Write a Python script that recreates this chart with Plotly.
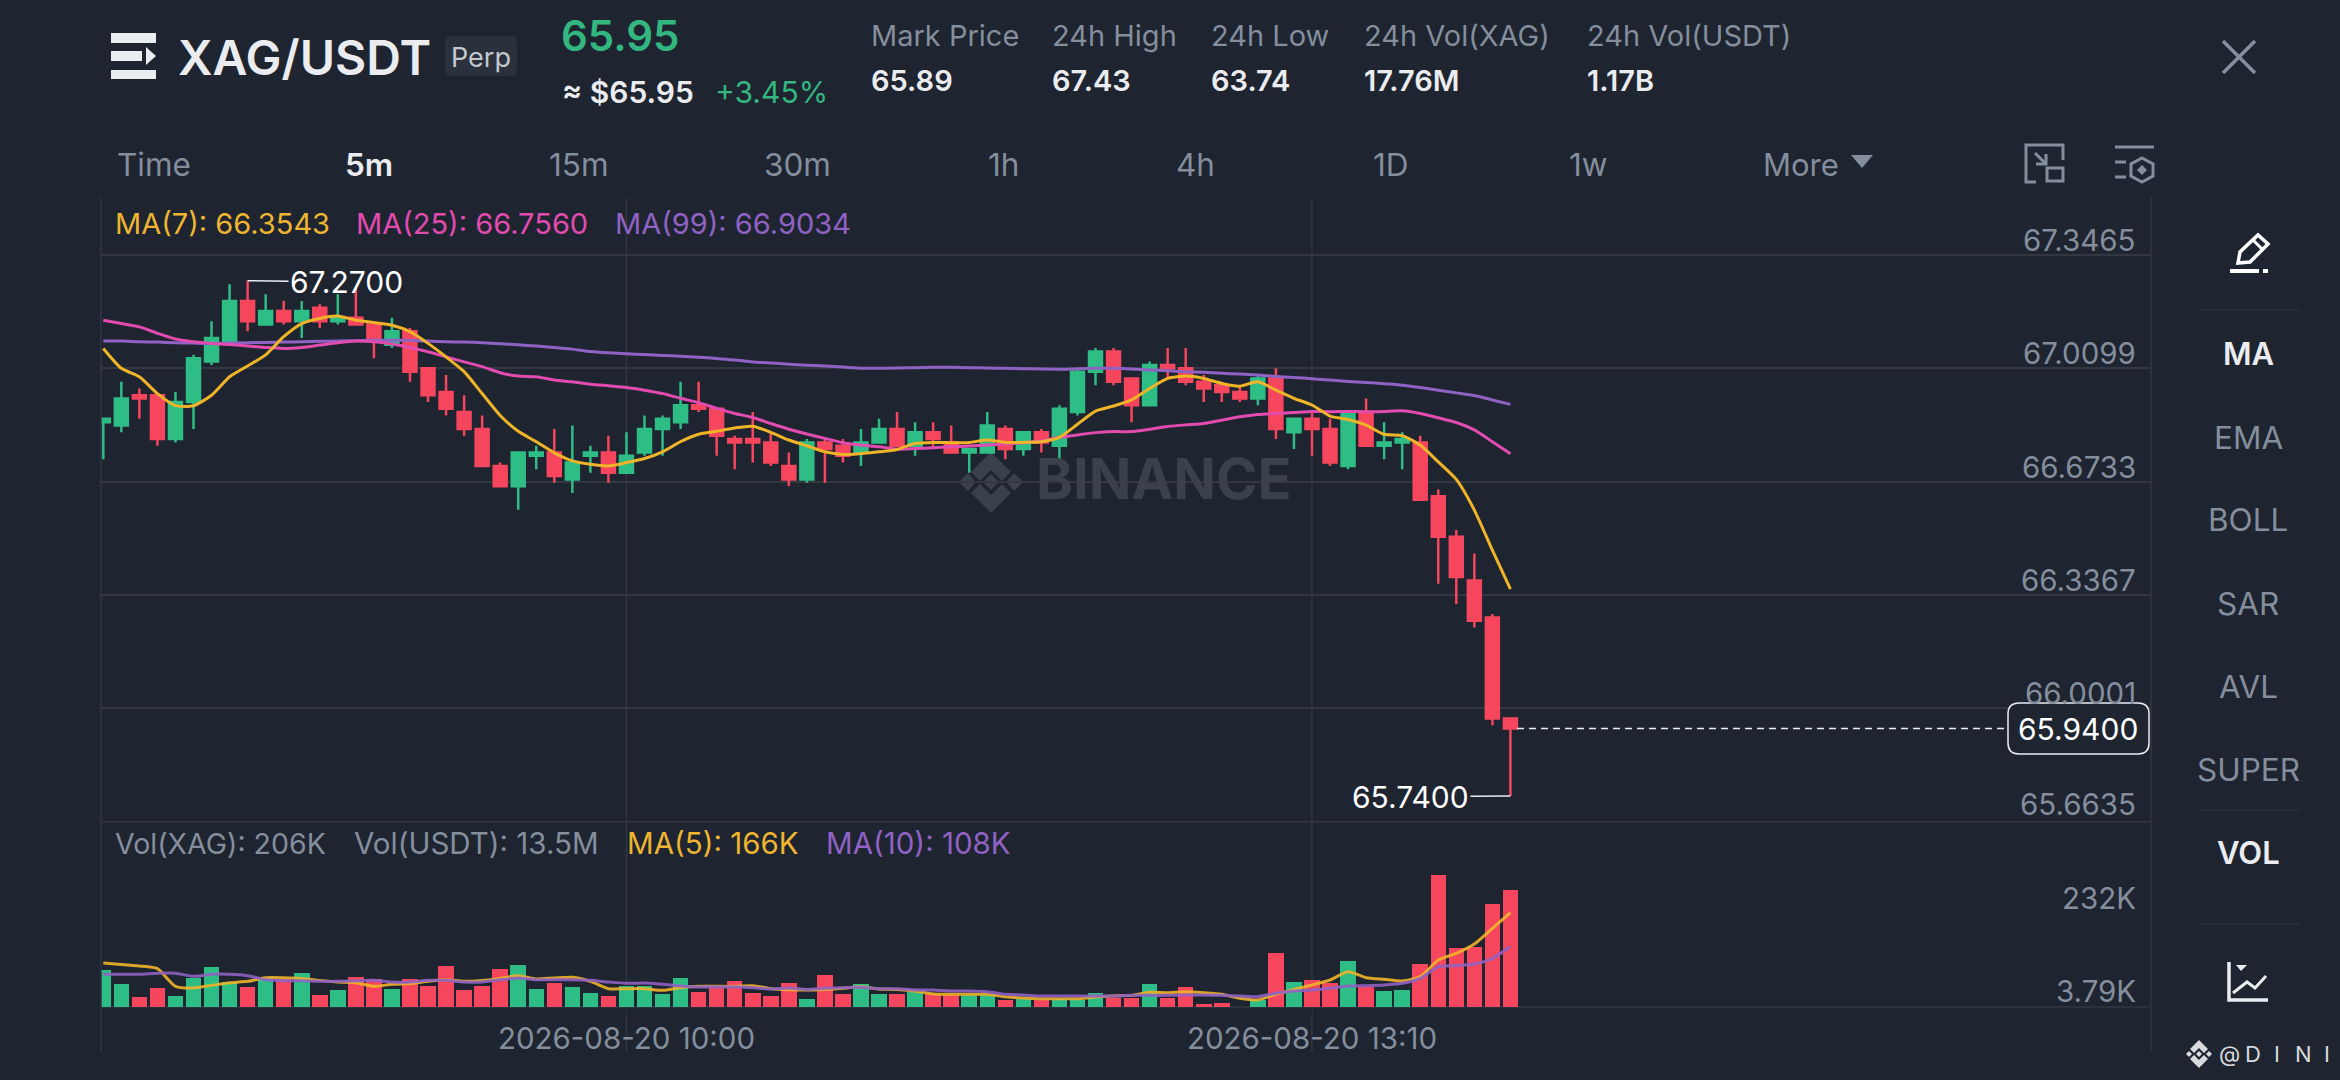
import pandas as pd
import plotly.graph_objects as go

# candles (one per 5 minutes)
first_time = "2026-08-20 07:35"
opens = [66.85, 66.84, 66.93, 66.93, 66.80, 66.91, 67.03, 67.09, 67.21, 67.14,
         67.18, 67.15, 67.19, 67.15, 67.16, 67.14, 67.08, 67.12, 67.01, 66.94,
         66.88, 66.83, 66.72, 66.66, 66.75, 66.76, 66.68, 66.75, 66.76, 66.70,
         66.76, 66.83, 66.85, 66.90, 66.89, 66.80, 66.80, 66.79, 66.72, 66.68,
         66.79, 66.78, 66.76, 66.79, 66.83, 66.78, 66.82, 66.79, 66.76, 66.76,
         66.83, 66.77, 66.82, 66.78, 66.88, 67.00, 67.06, 66.98, 66.90, 67.02,
         67.01, 66.97, 66.96, 66.94, 66.92, 66.98, 66.82, 66.86, 66.83, 66.72,
         66.88, 66.78, 66.79, 66.79, 66.63, 66.51, 66.38, 66.27, 65.97]
highs = [66.86, 66.97, 66.95, 66.93, 66.94, 67.05, 67.15, 67.26, 67.27, 67.23,
         67.21, 67.21, 67.20, 67.23, 67.25, 67.14, 67.16, 67.13, 67.01, 66.99,
         66.93, 66.87, 66.73, 66.76, 66.78, 66.83, 66.84, 66.78, 66.81, 66.82,
         66.87, 66.87, 66.97, 66.97, 66.89, 66.81, 66.88, 66.82, 66.76, 66.80,
         66.80, 66.80, 66.83, 66.86, 66.88, 66.85, 66.85, 66.84, 66.77, 66.88,
         66.84, 66.82, 66.83, 66.90, 67.01, 67.07, 67.07, 66.98, 67.03, 67.07,
         67.07, 66.99, 66.97, 66.96, 66.99, 67.01, 66.86, 66.88, 66.86, 66.88,
         66.92, 66.85, 66.82, 66.81, 66.65, 66.53, 66.46, 66.28, 65.97]
lows = [66.74, 66.82, 66.86, 66.78, 66.79, 66.83, 67.02, 67.09, 67.12, 67.14,
        67.14, 67.10, 67.13, 67.14, 67.14, 67.04, 67.07, 66.97, 66.91, 66.87,
        66.81, 66.72, 66.66, 66.59, 66.71, 66.67, 66.64, 66.70, 66.67, 66.70,
        66.75, 66.75, 66.83, 66.88, 66.75, 66.71, 66.73, 66.72, 66.66, 66.67,
        66.67, 66.73, 66.72, 66.79, 66.78, 66.75, 66.77, 66.76, 66.70, 66.76,
        66.74, 66.75, 66.76, 66.73, 66.87, 66.96, 66.96, 66.85, 66.90, 66.98,
        66.96, 66.91, 66.91, 66.91, 66.90, 66.80, 66.77, 66.75, 66.72, 66.71,
        66.78, 66.74, 66.71, 66.62, 66.37, 66.31, 66.24, 65.95, 65.74]
closes = [66.86, 66.92, 66.92, 66.80, 66.91, 67.04, 67.10, 67.21, 67.15, 67.18,
          67.15, 67.18, 67.15, 67.16, 67.14, 67.10, 67.12, 67.00, 66.93, 66.89,
          66.83, 66.72, 66.66, 66.76, 66.76, 66.69, 66.73, 66.76, 66.70, 66.75,
          66.83, 66.86, 66.90, 66.89, 66.81, 66.79, 66.79, 66.73, 66.68, 66.79,
          66.77, 66.75, 66.79, 66.83, 66.78, 66.82, 66.80, 66.76, 66.77, 66.84,
          66.77, 66.82, 66.79, 66.89, 67.00, 67.06, 66.97, 66.90, 67.02, 67.01,
          66.97, 66.95, 66.94, 66.92, 66.98, 66.83, 66.86, 66.83, 66.73, 66.88,
          66.78, 66.79, 66.80, 66.62, 66.51, 66.39, 66.26, 65.97, 65.94]

ma7 = [67.069, 67.010, 66.985, 66.935, 66.899, 66.899, 66.930, 66.985, 67.017, 67.050,
       67.104, 67.143, 67.158, 67.165, 67.153, 67.146, 67.138, 67.119, 67.084, 67.044,
       67.000, 66.935, 66.870, 66.823, 66.792, 66.759, 66.735, 66.725, 66.720, 66.730,
       66.742, 66.762, 66.792, 66.814, 66.823, 66.833, 66.838, 66.820, 66.797, 66.780,
       66.762, 66.754, 66.757, 66.762, 66.769, 66.787, 66.790, 66.789, 66.790, 66.797,
       66.790, 66.790, 66.792, 66.805, 66.844, 66.883, 66.898, 66.916, 66.950, 66.980,
       66.987, 66.980, 66.965, 66.957, 66.970, 66.945, 66.921, 66.901, 66.868, 66.858,
       66.841, 66.814, 66.810, 66.782, 66.732, 66.680, 66.589, 66.470, 66.354]
ma25 = [67.153, 67.143, 67.133, 67.114, 67.097, 67.089, 67.084, 67.081, 67.076, 67.072,
        67.069, 67.072, 67.079, 67.086, 67.091, 67.089, 67.082, 67.072, 67.059, 67.044,
        67.029, 67.015, 66.997, 66.987, 66.985, 66.975, 66.970, 66.963, 66.958, 66.953,
        66.945, 66.935, 66.921, 66.908, 66.891, 66.876, 66.864, 66.846, 66.829, 66.815,
        66.802, 66.789, 66.782, 66.777, 66.770, 66.772, 66.774, 66.777, 66.779, 66.782,
        66.785, 66.789, 66.794, 66.805, 66.812, 66.819, 66.822, 66.822, 66.829, 66.837,
        66.842, 66.846, 66.856, 66.866, 66.873, 66.876, 66.879, 66.882, 66.881, 66.882,
        66.881, 66.882, 66.884, 66.876, 66.863, 66.849, 66.827, 66.792, 66.756]
ma99 = [67.091, 67.091, 67.089, 67.088, 67.086, 67.085, 67.084, 67.085, 67.086, 67.087,
        67.088, 67.089, 67.090, 67.091, 67.092, 67.093, 67.093, 67.093, 67.091, 67.089,
        67.088, 67.086, 67.083, 67.080, 67.076, 67.072, 67.067, 67.060, 67.056, 67.053,
        67.051, 67.048, 67.046, 67.043, 67.039, 67.035, 67.029, 67.026, 67.022, 67.019,
        67.017, 67.014, 67.010, 67.010, 67.011, 67.012, 67.013, 67.013, 67.012, 67.011,
        67.010, 67.009, 67.008, 67.007, 67.009, 67.010, 67.010, 67.008, 67.005, 67.003,
        67.000, 66.998, 66.995, 66.993, 66.990, 66.986, 66.983, 66.979, 66.975, 66.971,
        66.968, 66.964, 66.960, 66.953, 66.945, 66.937, 66.929, 66.916, 66.903]

volumes = [68.6, 44.5, 22.1, 37.6, 22.7, 53.6, 73.7, 46.8, 39.3, 56.5,
           52.5, 63.4, 25.6, 33.0, 56.5, 52.5, 35.9, 52.5, 41.0, 74.9,
           33.6, 40.5, 70.3, 76.6, 35.9, 46.2, 39.3, 29.0, 22.7, 41.0,
           41.0, 26.7, 53.6, 30.2, 39.3, 49.6, 28.4, 23.3, 45.6, 17.5,
           58.8, 26.1, 44.5, 26.1, 27.3, 30.2, 27.3, 25.6, 24.4, 25.6,
           15.8, 17.5, 15.8, 17.5, 17.0, 27.9, 19.8, 20.4, 44.5, 20.4,
           38.7, 10.1, 10.7, 3.79, 17.0, 96.6, 46.8, 51.4, 46.2, 84.0,
           38.7, 31.9, 34.2, 77.7, 232.0, 105.8, 108.1, 181.4, 206.0]
vol_ma5 = [79.4, 77.1, 74.3, 69.7, 39.3, 36.5, 41.0, 45.6, 47.9, 54.2,
           54.2, 53.0, 49.6, 46.8, 45.6, 39.3, 42.8, 44.0, 47.9, 50.8,
           47.9, 49.6, 53.0, 57.7, 52.0, 53.6, 54.8, 47.9, 35.3, 35.3,
           35.3, 32.4, 37.0, 39.3, 39.3, 39.3, 40.5, 35.3, 33.6, 33.0,
           34.0, 35.9, 38.7, 34.7, 34.0, 31.3, 26.1, 25.6, 25.6, 25.6,
           21.6, 19.3, 18.1, 18.1, 18.1, 21.0, 22.7, 23.8, 29.0, 28.4,
           30.2, 28.4, 25.6, 18.7, 15.8, 25.6, 34.0, 41.6, 50.2, 64.5,
           54.2, 51.4, 48.5, 56.0, 84.6, 96.0, 112.0, 139.0, 166.0]
vol_ma10 = [60.0, 60.0, 60.0, 62.0, 62.0, 56.5, 60.0, 60.0, 57.7, 50.8,
            49.0, 49.0, 47.9, 47.9, 49.0, 49.6, 46.8, 46.8, 49.6, 49.6,
            46.8, 46.8, 50.8, 53.6, 50.8, 50.8, 50.8, 49.6, 46.8, 44.5,
            45.0, 42.8, 39.9, 38.2, 38.2, 38.2, 37.0, 34.7, 36.5, 34.0,
            35.9, 37.0, 37.6, 35.3, 35.3, 33.0, 33.0, 31.3, 31.3, 30.2,
            25.6, 24.4, 22.7, 22.7, 22.7, 22.7, 22.7, 23.8, 23.8, 23.8,
            24.4, 24.4, 23.8, 22.7, 21.6, 27.3, 31.3, 33.0, 35.9, 39.9,
            40.5, 41.6, 44.5, 53.0, 73.0, 74.8, 77.7, 87.5, 108.0]

price_ticks = [67.3465, 67.0099, 66.6733, 66.3367, 66.0001, 65.6635]
price_label_shift = [15, 15, 15, 15, 15, 18]
time_ticks = ["2026-08-20 10:00", "2026-08-20 13:10"]

BG = "#1E2430"
GRID = "#323742"
GREEN = "#2EBD85"
RED = "#F6465D"
YELLOW = "#F0B429"
PINK = "#E24BB0"
PURPLE = "#8F62C4"
GRAY = "#848E9C"
WHITE = "#EAECEF"
FONT = "Inter"

W, H = 2340, 1080
times = pd.date_range(first_time, periods=len(closes), freq="5min")


# the axis scale: 18.04 px per candle, first candle centred at x=103.3
def px_time(px):
    return times[0] + pd.Timedelta(minutes=5 * (px - 103.3) / 18.04)


def fx(px):
    return px / W


def fy(px):
    return 1 - px / H


fig = go.Figure()
fig.add_trace(go.Candlestick(
    x=times, open=opens, high=highs, low=lows, close=closes, whiskerwidth=0,
    increasing=dict(line=dict(color=GREEN, width=2.5), fillcolor=GREEN),
    decreasing=dict(line=dict(color=RED, width=2.5), fillcolor=RED),
))
for vals, col in [(ma99, PURPLE), (ma25, PINK), (ma7, YELLOW)]:
    fig.add_trace(go.Scatter(x=times, y=vals, mode="lines",
                             line=dict(color=col, width=3, shape="spline", smoothing=0.6)))

bar_colors = [GREEN if c >= o else RED for o, c in zip(opens, closes)]
fig.add_trace(go.Bar(x=times, y=volumes, width=258000, marker=dict(color=bar_colors, line_width=0), yaxis="y2"))
for vals, col in [(vol_ma5, YELLOW), (vol_ma10, PURPLE)]:
    fig.add_trace(go.Scatter(x=times, y=vals, mode="lines", yaxis="y2", opacity=0.9,
                             line=dict(color=col, width=3, shape="spline", smoothing=0.6)))

shapes = []
notes = []


def line(x0, y0, x1, y1, color=GRID, width=1.5, layer="above"):
    shapes.append(dict(type="line", xref="paper", yref="paper", x0=fx(x0), y0=fy(y0), x1=fx(x1), y1=fy(y1),
                       line=dict(color=color, width=width), layer=layer))


def poly(points, fill=None, color=None, width=2.5, layer="above", closed=True):
    path = "M " + " L ".join(f"{fx(a):.5f} {fy(b):.5f}" for a, b in points) + (" Z" if closed else "")
    shapes.append(dict(type="path", xref="paper", yref="paper", path=path, fillcolor=fill, layer=layer,
                       line=dict(color=color or "rgba(0,0,0,0)", width=width if color else 0)))


def rect(x0, y0, x1, y1, fill=None, color=None, width=2.5):
    poly([(x0, y0), (x1, y0), (x1, y1), (x0, y1)], fill=fill, color=color, width=width)


def rrect(x0, y0, x1, y1, r, fill=None, color=None, width=2):
    kx = fx(r)
    ky = r / H
    a, b, c, d = fx(x0), fx(x1), fy(y0), fy(y1)
    path = (f"M {a + kx:.5f} {c:.5f} L {b - kx:.5f} {c:.5f} Q {b:.5f} {c:.5f} {b:.5f} {c - ky:.5f} "
            f"L {b:.5f} {d + ky:.5f} Q {b:.5f} {d:.5f} {b - kx:.5f} {d:.5f} "
            f"L {a + kx:.5f} {d:.5f} Q {a:.5f} {d:.5f} {a:.5f} {d + ky:.5f} "
            f"L {a:.5f} {c - ky:.5f} Q {a:.5f} {c:.5f} {a + kx:.5f} {c:.5f} Z")
    shapes.append(dict(type="path", xref="paper", yref="paper", path=path, fillcolor=fill,
                       line=dict(color=color or "rgba(0,0,0,0)", width=width if color else 0)))


def label(text, x, y, size=29, color=GRAY, anchor="left", weight=400):
    # annotations carry a little padding, take it off left-aligned text
    x = x - 3 if anchor == "left" else x
    notes.append(dict(text=text, x=fx(x), y=fy(y), xref="paper", yref="paper", xanchor=anchor, yanchor="middle",
                      showarrow=False, font=dict(family=FONT, size=size, color=color, weight=weight)))


# header
rect(111, 33, 156, 43, fill=WHITE)
rect(111, 51, 142, 61, fill=WHITE)
poly([(146, 47), (156, 56), (146, 65)], fill=WHITE)
rect(111, 70, 156, 79, fill=WHITE)
label("XAG/USDT", 179, 58, size=48, color=WHITE, weight=600)
rrect(445, 36, 517, 76, 6, fill="#2B313C")
label("Perp", 481, 57, size=27, color="#C4C8CF", anchor="center")
label("65.95", 562, 35, size=42, color="#33B67F", weight=600)
label("≈ $65.95", 563, 92, size=30, color=WHITE, weight=600)
label("+3.45%", 716, 92, size=30, color="#33B67F")
stat_x = [872, 1053, 1212, 1365, 1588]
stat_names = ["Mark Price", "24h High", "24h Low", "24h Vol(XAG)", "24h Vol(USDT)"]
stat_values = ["65.89", "67.43", "63.74", "17.76M", "1.17B"]
for sx, nm, val in zip(stat_x, stat_names, stat_values):
    label(nm, sx, 35, size=29)
    label(val, sx, 80, size=29, color=WHITE, weight=600)
line(2223, 41, 2255, 73, color=GRAY, width=3.5)
line(2255, 41, 2223, 73, color=GRAY, width=3.5)

# interval row
for txt, cx in [("Time", 154), ("15m", 579), ("30m", 797), ("1h", 1004), ("4h", 1195), ("1D", 1391), ("1w", 1588)]:
    label(txt, cx, 164, size=31.5, anchor="center")
label("5m", 369, 164, size=31.5, color=WHITE, anchor="center", weight=600)
label("More", 1764, 164, size=31)
poly([(1851, 155), (1873, 155), (1862, 168)], fill=GRAY)
# layout and settings icons
poly([(2036, 182), (2026, 182), (2026, 145), (2063, 145), (2063, 160)], color=GRAY, closed=False, width=3)
rect(2047, 168, 2063, 181, color=GRAY, width=3)
line(2035, 153, 2046, 164, color=GRAY, width=3)
poly([(2036, 164), (2046, 164), (2046, 154)], color=GRAY, closed=False, width=3)
line(2115, 147, 2154, 147, color=GRAY, width=3)
line(2115, 162, 2126, 162, color=GRAY, width=3)
line(2115, 177, 2126, 177, color=GRAY, width=3)
poly([(2142, 158), (2153, 164), (2153, 176), (2142, 182), (2131, 176), (2131, 164)], color=GRAY, width=3)
poly([(2142, 165), (2147, 170), (2142, 175), (2137, 170)], fill=GRAY)

# legends
label("MA(7): 66.3543", 116, 224, color="#EDB530", size=29)
label("MA(25): 66.7560", 357, 224, color=PINK, size=29)
label("MA(99): 66.9034", 616, 224, color=PURPLE, size=29)
label("Vol(XAG): 206K", 116, 843, size=28.5)
label("Vol(USDT): 13.5M", 355, 843, size=29.5)
label("MA(5): 166K", 628, 843, color="#EDB530", size=29.5)
label("MA(10): 108K", 827, 843, color=PURPLE, size=29.5)

# price labels sit just above their grid lines
for p, shift in zip(price_ticks, price_label_shift):
    notes.append(dict(text=f"{p:.4f}", x=fx(2138), y=p, xref="paper", yref="y", xanchor="right", yanchor="middle",
                      yshift=shift, showarrow=False, font=dict(family=FONT, size=29.5, color=GRAY)))
for v, txt, shift in [(232.0, "232K", -24), (3.79, "3.79K", 16)]:
    notes.append(dict(text=txt, x=fx(2138), y=v, xref="paper", yref="y2", xanchor="right", yanchor="middle",
                      yshift=shift, showarrow=False, font=dict(family=FONT, size=29.5, color=GRAY)))

# high and low markers
notes.append(dict(text="67.2700", x=times[highs.index(max(highs))], y=max(highs), xref="x", yref="y", ax=99, ay=1,
                  showarrow=True, arrowhead=0, arrowwidth=1.5, arrowcolor=WHITE,
                  font=dict(family=FONT, size=30, color="#FFFFFF")))
notes.append(dict(text="65.7400", x=times[-1], y=min(lows), xref="x", yref="y", ax=-100, ay=1,
                  showarrow=True, arrowhead=0, arrowwidth=1.5, arrowcolor=WHITE,
                  font=dict(family=FONT, size=30, color="#FFFFFF")))

# last price line and tag
shapes.append(dict(type="line", xref="x", yref="y", x0=px_time(1517), x1=px_time(2008), y0=closes[-1], y1=closes[-1],
                   line=dict(color=WHITE, width=1.5, dash="7px,5px")))
rrect(2008, 703, 2149, 754, 11, fill=BG, color=WHITE, width=1.5)
label("65.9400", 2078, 729, size=30, color="#FFFFFF", anchor="center")

# watermark
WM = "#3A404C"
poly([(991, 452), (1011, 472), (1002, 481), (991, 470), (980, 481), (971, 472)], fill=WM, layer="below")
poly([(991, 513), (971, 493), (980, 484), (991, 495), (1002, 484), (1011, 493)], fill=WM, layer="below")
poly([(968, 473), (976, 482), (968, 491), (959, 482)], fill=WM, layer="below")
poly([(1014, 473), (1023, 482), (1014, 491), (1006, 482)], fill=WM, layer="below")
poly([(991, 474), (999, 482), (991, 490), (983, 482)], fill=WM, layer="below")
label("BINANCE", 1037, 479, size=56, color=WM, weight=700)

# frame and side panel
line(101, 198, 101, 1052)
line(2151, 196, 2151, 1052)
line(101, 821.7, 2150, 821.7, layer="below")
line(101, 1007, 2150, 1007, layer="below")
for sy in [310, 810, 924]:
    line(2198, sy, 2300, sy, color="#2B303B")
for txt, sy in [("EMA", 437), ("BOLL", 520), ("SAR", 603), ("AVL", 686), ("SUPER", 769)]:
    label(txt, 2248, sy, size=31.5, anchor="center")
for txt, sy in [("MA", 354), ("VOL", 852)]:
    label(txt, 2248, sy, size=31, color=WHITE, anchor="center", weight=600)
# pencil
poly([(2238, 263), (2240, 252), (2258, 235), (2268, 244), (2250, 262)], color="#FFFFFF", width=3.5)
line(2253, 240, 2262, 249, color="#FFFFFF", width=3)
line(2230, 271, 2259, 271, color="#FFFFFF", width=4)
line(2263, 271, 2268, 271, color="#FFFFFF", width=4)
# chart icon
poly([(2229, 962), (2229, 1000), (2268, 1000)], color=WHITE, closed=False, width=3.5)
poly([(2233, 993), (2247, 982), (2255, 988), (2266, 976)], color=WHITE, closed=False, width=3)
poly([(2236, 965), (2247, 965), (2241, 971)], fill=WHITE)
# signature
poly([(2199, 1040), (2208, 1049), (2204, 1053), (2199, 1048), (2194, 1053), (2190, 1049)], fill="#D8DADD")
poly([(2199, 1068), (2190, 1059), (2194, 1055), (2199, 1060), (2204, 1055), (2208, 1059)], fill="#D8DADD")
poly([(2189, 1051), (2192, 1054), (2189, 1057), (2186, 1054)], fill="#D8DADD")
poly([(2209, 1051), (2212, 1054), (2209, 1057), (2206, 1054)], fill="#D8DADD")
poly([(2199, 1051), (2202, 1054), (2199, 1057), (2196, 1054)], fill="#D8DADD")
for ch, sx in [("@", 2220), ("D", 2246), ("I", 2275), ("N", 2296), ("I", 2325)]:
    label(ch, sx, 1054, size=22, color="#D8DADD")

# vertical grid lines run the full height, so they are shapes and not axis grid
for t in time_ticks:
    shapes.append(dict(type="line", xref="x", yref="paper", x0=t, x1=t, y0=fy(1052), y1=fy(198),
                       line=dict(color=GRID, width=1.5), layer="below"))

fig.update_layout(
    width=W, height=H, autosize=False, margin=dict(l=0, r=0, t=0, b=0),
    paper_bgcolor=BG, plot_bgcolor=BG, showlegend=False, hovermode=False, bargap=0, boxgap=0.28, boxgroupgap=0,
    xaxis=dict(domain=[fx(101), fx(2150)], range=[px_time(101), px_time(2150)], anchor="y2", type="date",
               rangeslider=dict(visible=False), showgrid=False, zeroline=False, showline=False,
               tickmode="array", tickvals=time_ticks, ticktext=time_ticks, ticks="outside", ticklen=6,
               tickcolor=BG, tickfont=dict(family=FONT, size=29.5, color=GRAY)),
    yaxis=dict(domain=[fy(821.7), fy(198)], range=[65.6635, 67.5158], tickmode="array", tickvals=price_ticks,
               showticklabels=False, ticks="", gridcolor=GRID, gridwidth=1.5, zeroline=False, showline=False),
    yaxis2=dict(domain=[fy(1007), fy(821.7)], range=[3.79, 322.5], tickmode="array", tickvals=[3.79],
                showticklabels=False, ticks="", gridcolor=GRID, gridwidth=1.5, zeroline=False, showline=False),
    shapes=shapes, annotations=notes,
)

fig.write_html("out.html", config=dict(displayModeBar=False),
               post_script="document.body.style.margin='0';document.body.style.overflow='hidden';")
